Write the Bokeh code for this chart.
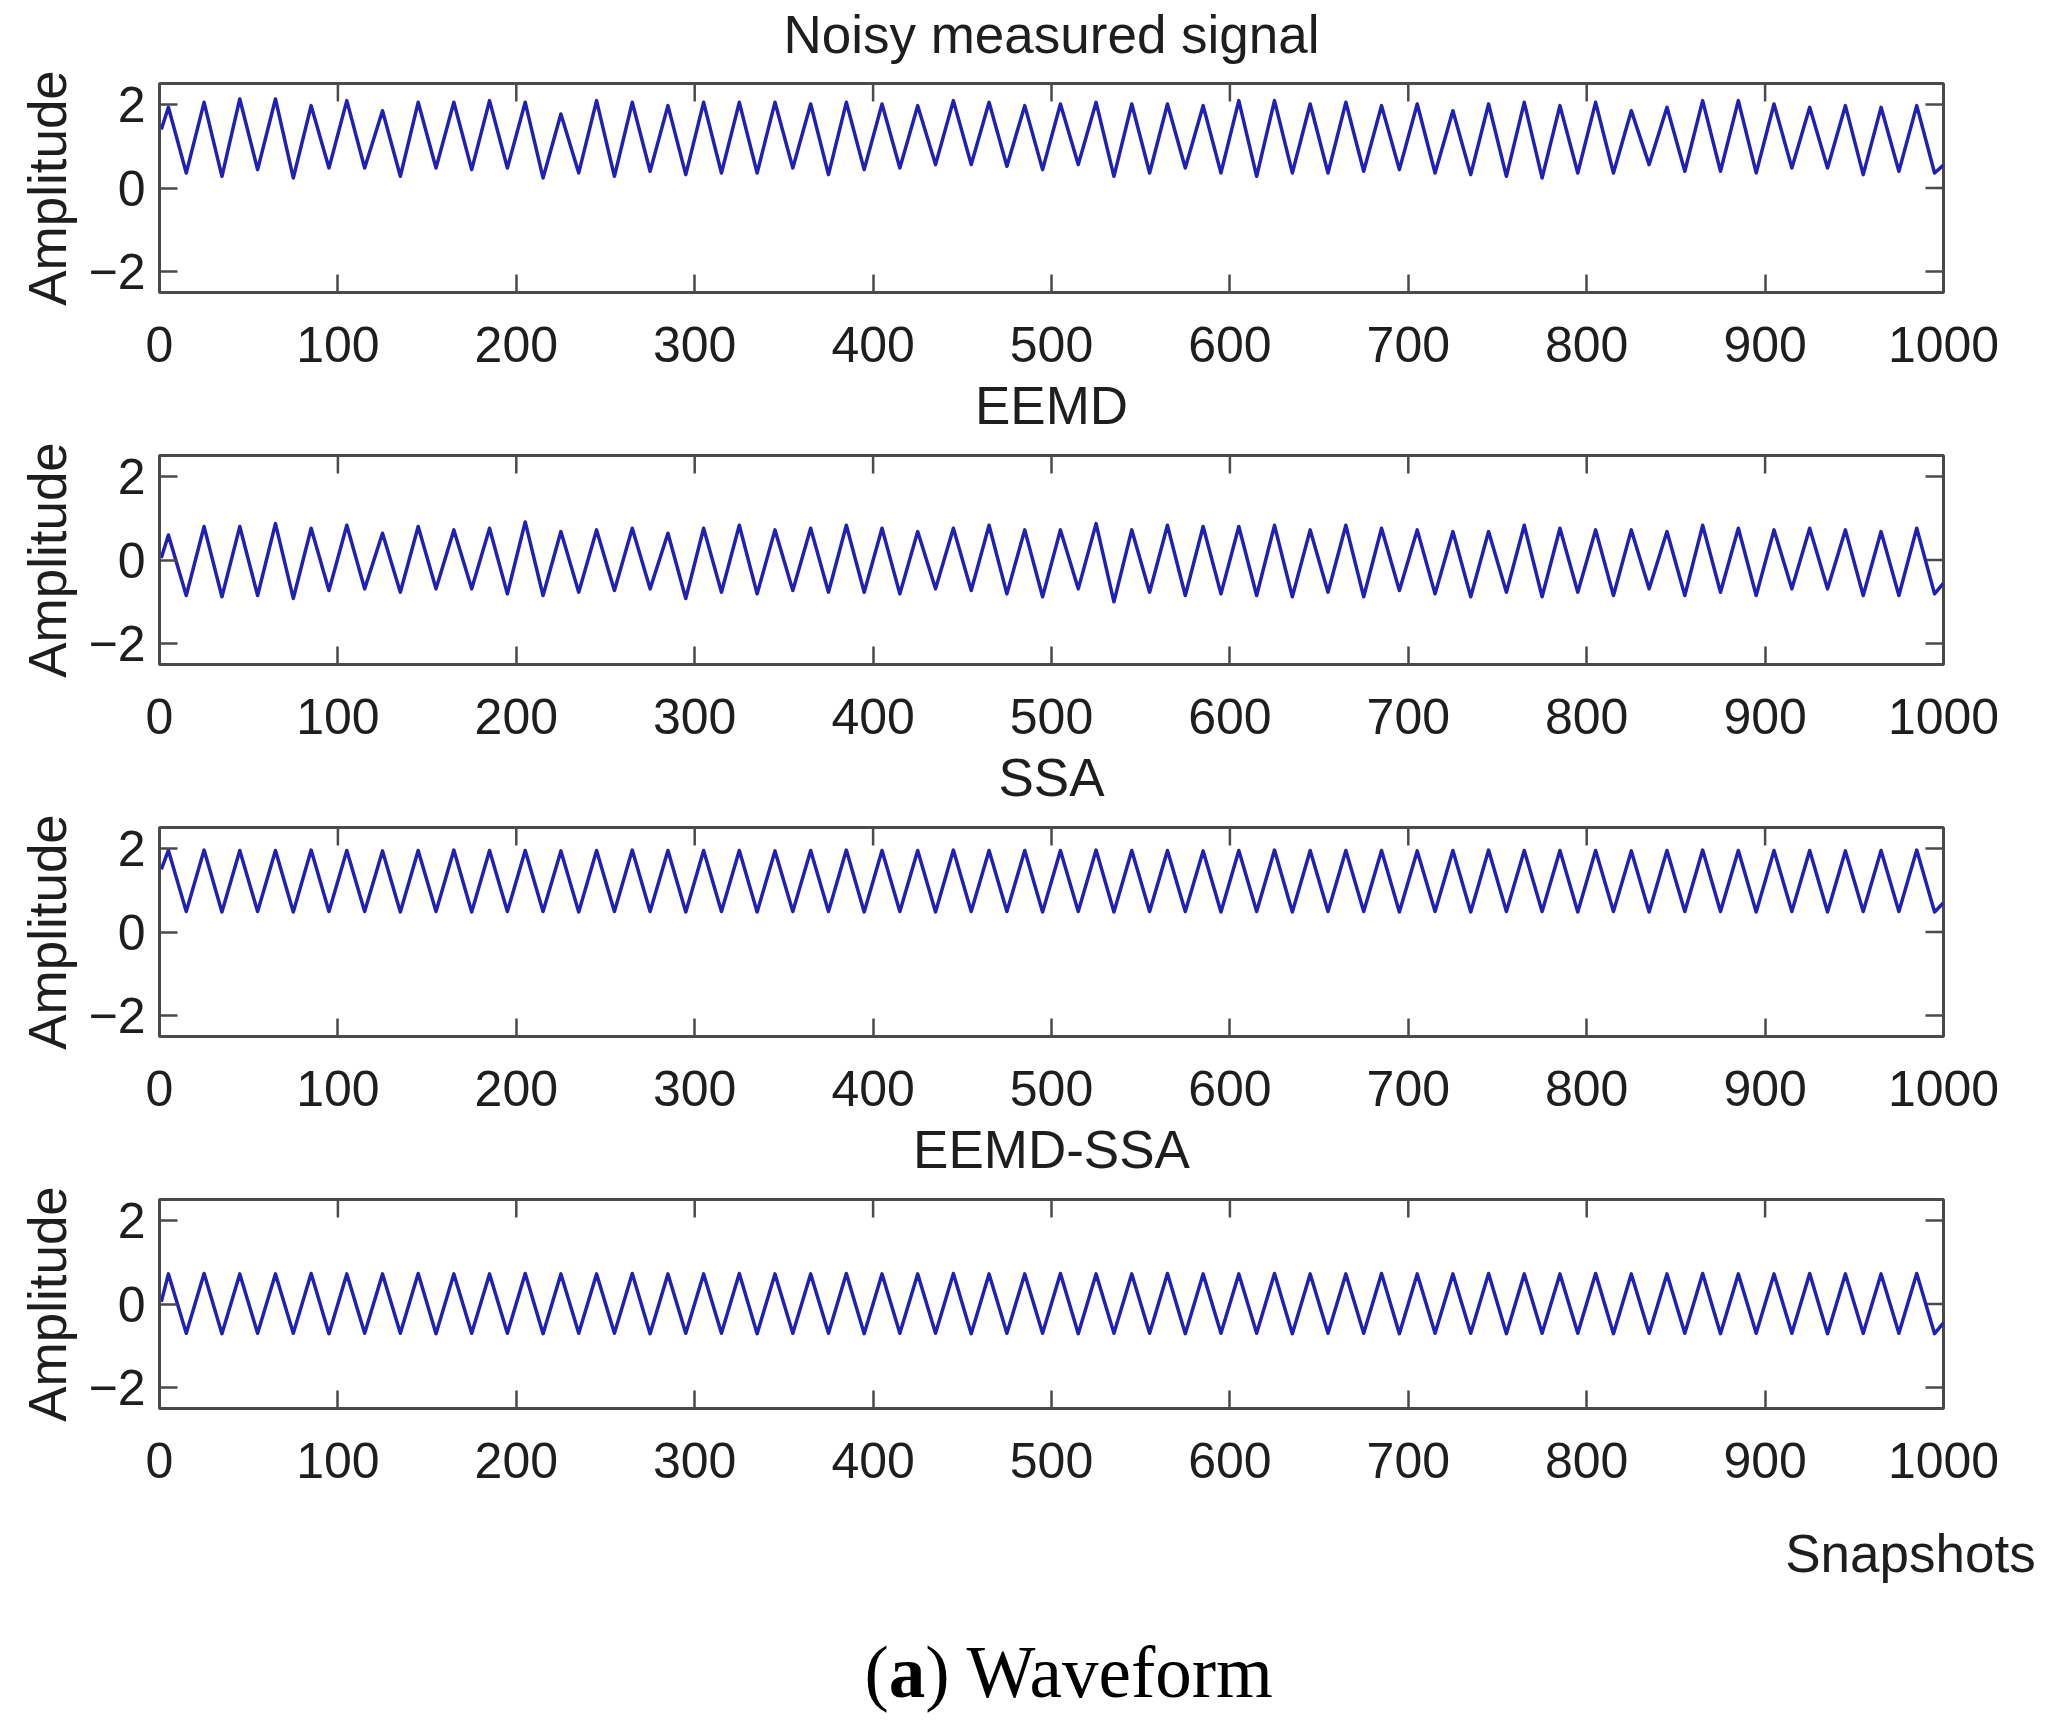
from math import pi

from bokeh.plotting import figure
from bokeh.models import FixedTicker, Range1d, Label
from bokeh.layouts import column
from bokeh.embed import file_html
from bokeh.resources import INLINE

# ---------------- data ----------------
titles = ["Noisy measured signal", "EEMD", "SSA", "EEMD-SSA"]
x_ticks = [0, 100, 200, 300, 400, 500, 600, 700, 800, 900, 1000]
y_ticks = [-2, 0, 2]
x_label = "Snapshots"
y_label = "Amplitude"
caption_parts = ["(", "a", ") Waveform"]

# sample index of start, every local peak / trough (alternating) and end
extrema_x = [1,
             5, 15, 25, 35, 45, 55, 65, 75, 85, 95,
             105, 115, 125, 135, 145, 155, 165, 175, 185, 195,
             205, 215, 225, 235, 245, 255, 265, 275, 285, 295,
             305, 315, 325, 335, 345, 355, 365, 375, 385, 395,
             405, 415, 425, 435, 445, 455, 465, 475, 485, 495,
             505, 515, 525, 535, 545, 555, 565, 575, 585, 595,
             605, 615, 625, 635, 645, 655, 665, 675, 685, 695,
             705, 715, 725, 735, 745, 755, 765, 775, 785, 795,
             805, 815, 825, 835, 845, 855, 865, 875, 885, 895,
             905, 915, 925, 935, 945, 955, 965, 975, 985, 995,
             1000]

noisy_ends = [1.40, 0.55]
noisy_peaks = [1.93, 2.05, 2.13, 2.13, 1.97, 2.09, 1.85, 2.05, 2.05, 2.09,
               2.05, 1.77, 2.09, 2.05, 1.97, 2.05, 2.05, 2.05, 2.01, 2.05,
               2.01, 1.97, 2.09, 2.05, 1.97,
               2.01, 2.05, 2.01, 2.01, 1.97, 2.09, 2.09, 2.01, 2.05, 1.97,
               2.01, 1.85, 2.01, 2.05, 1.97, 2.05, 1.85, 1.93, 2.09, 2.09,
               2.01, 1.93, 1.97, 1.93, 1.97]
noisy_troughs = [0.36, 0.28, 0.44, 0.24, 0.48, 0.48, 0.28, 0.48, 0.44, 0.48,
                 0.24, 0.36, 0.28, 0.40, 0.32, 0.36, 0.36, 0.48, 0.32, 0.44,
                 0.48, 0.56, 0.56, 0.52, 0.44,
                 0.56, 0.28, 0.36, 0.48, 0.36, 0.28, 0.36, 0.36, 0.40, 0.44,
                 0.36, 0.32, 0.28, 0.24, 0.36, 0.36, 0.56, 0.40, 0.40, 0.36,
                 0.48, 0.48, 0.32, 0.40, 0.36]

eemd_ends = [0.05, -0.55]
eemd_peaks = [0.60, 0.80, 0.80, 0.87, 0.76, 0.83, 0.64, 0.80, 0.72, 0.76,
              0.91, 0.68, 0.72, 0.76, 0.64, 0.76, 0.83, 0.72, 0.76, 0.83,
              0.76, 0.68, 0.76, 0.83, 0.72,
              0.72, 0.87, 0.72, 0.83, 0.80, 0.80, 0.83, 0.72, 0.83, 0.76,
              0.72, 0.68, 0.68, 0.83, 0.76, 0.72, 0.72, 0.68, 0.83, 0.76,
              0.72, 0.76, 0.72, 0.68, 0.76]
eemd_troughs = [-0.85, -0.88, -0.85, -0.92, -0.73, -0.69, -0.77, -0.69, -0.69, -0.81,
                -0.85, -0.77, -0.73, -0.69, -0.92, -0.77, -0.81, -0.73, -0.77, -0.77,
                -0.81, -0.69, -0.73, -0.81, -0.88,
                -0.69, -1.00, -0.77, -0.85, -0.81, -0.85, -0.88, -0.77, -0.88, -0.73,
                -0.81, -0.88, -0.77, -0.88, -0.77, -0.85, -0.69, -0.85, -0.77, -0.85,
                -0.69, -0.69, -0.85, -0.85, -0.81]

ssa_ends = [1.50, 0.70]
ssa_peaks = [1.95, 1.96, 1.95, 1.95, 1.96, 1.95, 1.94, 1.95, 1.96, 1.95,
             1.95, 1.94, 1.95, 1.96, 1.95, 1.95, 1.95, 1.94, 1.95, 1.96,
             1.95, 1.95, 1.96, 1.95, 1.95,
             1.95, 1.96, 1.95, 1.95, 1.94, 1.95, 1.96, 1.95, 1.95, 1.95,
             1.94, 1.95, 1.96, 1.95, 1.95, 1.95, 1.94, 1.95, 1.96, 1.95,
             1.95, 1.95, 1.94, 1.95, 1.96]
ssa_troughs = [0.49, 0.48, 0.49, 0.48, 0.49, 0.49, 0.48, 0.49, 0.48, 0.49,
               0.49, 0.48, 0.49, 0.49, 0.48, 0.49, 0.48, 0.49, 0.49, 0.48,
               0.49, 0.48, 0.49, 0.49, 0.48,
               0.49, 0.48, 0.49, 0.49, 0.48, 0.49, 0.48, 0.49, 0.49, 0.48,
               0.49, 0.48, 0.49, 0.49, 0.48, 0.49, 0.48, 0.49, 0.49, 0.48,
               0.49, 0.48, 0.49, 0.49, 0.48]

eemdssa_ends = [0.05, -0.45]
eemdssa_peaks = [0.72, 0.73, 0.72, 0.72, 0.73, 0.72, 0.72, 0.73, 0.72, 0.72,
                 0.73, 0.72, 0.72, 0.73, 0.72, 0.72, 0.73, 0.72, 0.72, 0.73,
                 0.72, 0.72, 0.73, 0.72, 0.72,
                 0.73, 0.72, 0.72, 0.73, 0.72, 0.72, 0.73, 0.72, 0.72, 0.73,
                 0.72, 0.72, 0.73, 0.72, 0.72, 0.73, 0.72, 0.72, 0.73, 0.72,
                 0.72, 0.73, 0.72, 0.72, 0.73]
eemdssa_troughs = [-0.70, -0.71, -0.70, -0.70, -0.71, -0.70, -0.70, -0.71, -0.70, -0.70,
                   -0.71, -0.70, -0.70, -0.71, -0.70, -0.70, -0.71, -0.70, -0.70, -0.71,
                   -0.70, -0.70, -0.71, -0.70, -0.70,
                   -0.71, -0.70, -0.70, -0.71, -0.70, -0.70, -0.71, -0.70, -0.70, -0.71,
                   -0.70, -0.70, -0.71, -0.70, -0.70, -0.71, -0.70, -0.70, -0.71, -0.70,
                   -0.70, -0.71, -0.70, -0.70, -0.71]

series = [
    (noisy_ends, noisy_peaks, noisy_troughs),
    (eemd_ends, eemd_peaks, eemd_troughs),
    (ssa_ends, ssa_peaks, ssa_troughs),
    (eemdssa_ends, eemdssa_peaks, eemdssa_troughs),
]

# ---------------- styling / layout ----------------
SANS = "Liberation Sans"
SERIF = "Liberation Serif"
LINE_COLOR = "#2020b4"
AXIS_COLOR = "#4a4a4a"
TEXT_COLOR = "#1e1e1e"
FRAME_W, FRAME_H = 1784, 209
BORDER_L, BORDER_R = 159, 98
PANEL_T, PANEL_B = 18, 80           # borders of each panel figure
STRIP_H = [65, 65, 65, 65]          # title strips above each panel
TITLE_Y = [34, 33, 33, 33]          # title centre, px from top of its strip
TICK_LEN = 18


def build_y(ends, peaks, troughs):
    ys = [ends[0]]
    for pk, tr in zip(peaks, troughs):
        ys.append(pk)
        ys.append(tr)
    ys.append(ends[1])
    return ys


def aligned_figure(frame_w=FRAME_W, right=BORDER_R, **kw):
    return figure(frame_width=frame_w, min_border_left=BORDER_L,
                  min_border_right=right, output_backend="svg",
                  toolbar_location=None, background_fill_color="white",
                  border_fill_color="white", title=None, **kw)


children = []
for i, (title, (ends, peaks, troughs)) in enumerate(zip(titles, series)):
    # title strip
    s = aligned_figure(frame_height=STRIP_H[i], min_border_top=0, min_border_bottom=0,
                       x_range=Range1d(0, 1000), y_range=Range1d(STRIP_H[i], 0),
                       x_axis_type=None, y_axis_type=None)
    s.grid.visible = False
    s.outline_line_color = None
    s.add_layout(Label(x=500, y=TITLE_Y[i], text=title, text_font=SANS,
                       text_font_size="53px", text_color=TEXT_COLOR,
                       text_align="center", text_baseline="middle"))
    children.append(s)

    # panel
    p = aligned_figure(frame_height=FRAME_H,
                       min_border_top=PANEL_T, min_border_bottom=PANEL_B,
                       x_range=Range1d(0, 1000), y_range=Range1d(-2.5, 2.5))
    p.grid.visible = False
    p.outline_line_color = AXIS_COLOR
    p.outline_line_width = 3
    p.outline_line_alpha = 1.0

    for ax in (p.xaxis[0], p.yaxis[0]):
        ax.axis_line_color = AXIS_COLOR
        ax.axis_line_width = 3
        ax.major_tick_line_color = AXIS_COLOR
        ax.major_tick_line_width = 2.5
        ax.major_tick_in = TICK_LEN
        ax.major_tick_out = 0
        ax.minor_tick_line_color = None
        ax.major_label_text_font = SANS
        ax.major_label_text_font_size = "50px"
        ax.major_label_text_color = TEXT_COLOR

    p.xaxis.ticker = FixedTicker(ticks=x_ticks)
    p.yaxis.ticker = FixedTicker(ticks=y_ticks)
    p.xaxis.major_label_standoff = 34
    p.yaxis.major_label_standoff = 14

    p.yaxis.axis_label = y_label
    p.yaxis.axis_label_text_font = SANS
    p.yaxis.axis_label_text_font_size = "53px"
    p.yaxis.axis_label_text_font_style = "normal"
    p.yaxis.axis_label_text_color = TEXT_COLOR
    p.yaxis.axis_label_standoff = 8

    # mirrored inward ticks on the top and right edges (box on)
    p.ray(x=x_ticks, y=[p.y_range.end] * len(x_ticks), length=TICK_LEN,
          length_units="screen", angle=-pi / 2, line_color=AXIS_COLOR,
          line_width=2.5)
    p.ray(x=[p.x_range.end] * len(y_ticks), y=y_ticks, length=TICK_LEN,
          length_units="screen", angle=pi, line_color=AXIS_COLOR,
          line_width=2.5)

    p.line(extrema_x, build_y(ends, peaks, troughs), line_color=LINE_COLOR,
           line_width=3.5, line_join="round")
    children.append(p)

# caption area: "Snapshots" and "(a) Waveform" (px from frame left / top)
CAP_H = 230
CAP_W = FRAME_W + BORDER_R
cap = aligned_figure(frame_w=CAP_W, right=0, frame_height=CAP_H,
                     min_border_top=0, min_border_bottom=0,
                     x_range=Range1d(0, CAP_W), y_range=Range1d(CAP_H, 0),
                     x_axis_type=None, y_axis_type=None)
cap.grid.visible = False
cap.outline_line_color = None

cap.add_layout(Label(x=1751, y=65, text=x_label, text_font=SANS,
                     text_font_size="53px", text_color=TEXT_COLOR,
                     text_align="center", text_baseline="middle"))

CAP_FS = 73
widths = [0.333 * CAP_FS, 0.5 * CAP_FS]
cx = 705
cy = 184
cap.add_layout(Label(x=cx, y=cy, text=caption_parts[0], text_font=SERIF,
                     text_font_size=f"{CAP_FS}px", text_color="black",
                     text_align="left", text_baseline="middle"))
cap.add_layout(Label(x=cx + widths[0], y=cy, text=caption_parts[1], text_font=SERIF,
                     text_font_size=f"{CAP_FS}px", text_font_style="bold",
                     text_color="black", text_align="left", text_baseline="middle"))
cap.add_layout(Label(x=cx + widths[0] + widths[1], y=cy, text=caption_parts[2],
                     text_font=SERIF, text_font_size=f"{CAP_FS}px", text_color="black",
                     text_align="left", text_baseline="middle"))
children.append(cap)

layout = column(*children, spacing=0)
open("out.html", "w").write(file_html(layout, INLINE))
